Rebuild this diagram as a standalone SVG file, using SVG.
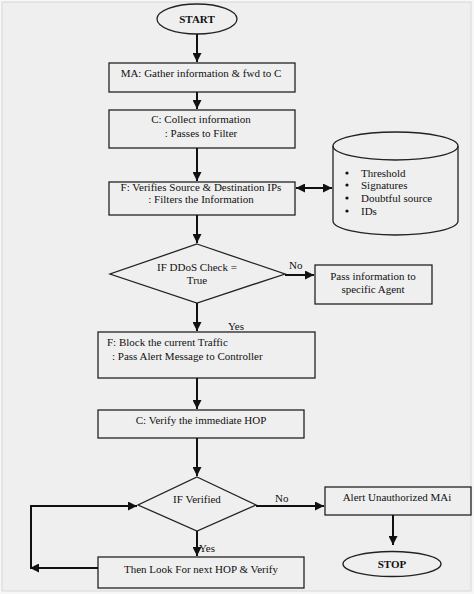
<svg xmlns="http://www.w3.org/2000/svg" width="474" height="594" viewBox="0 0 474 594" font-family="Liberation Serif, Times New Roman, serif">
<style>
.box{fill:none;stroke:#222;stroke-width:1.3}
.t{font-size:11px;fill:#111}
.c{text-anchor:middle}
.b{font-weight:bold}
.ln{fill:none;stroke:#111;stroke-width:2}
</style>
<defs>
<marker id="ah" viewBox="0 0 10 10" refX="10" refY="5" markerWidth="4.5" markerHeight="4.5" orient="auto-start-reverse" markerUnits="strokeWidth">
<path d="M0,0 L10,5 L0,10 z" fill="#111"/>
</marker>
</defs>
<rect x="0" y="0" width="474" height="594" fill="#f7f7f7"/>
<rect x="2" y="2" width="469" height="589" fill="#efefef" stroke="#d8d8d8" stroke-width="1"/>

<g id="start">
<ellipse cx="197" cy="19" rx="40" ry="15" class="box"/>
<text x="197" y="23" class="t c b">START</text>
</g>
<g id="gather">
<rect x="109" y="63" width="186" height="29" class="box"/>
<text x="201" y="77" class="t c">MA: Gather information &amp; fwd to C</text>
</g>
<g id="collect">
<rect x="109" y="110" width="186" height="38" class="box"/>
<text x="201" y="123" class="t c">C: Collect information</text>
<text x="201" y="137" class="t c">: Passes to Filter</text>
</g>
<g id="filter">
<rect x="109" y="182" width="186" height="33" class="box"/>
<text x="201" y="191" class="t c">F: Verifies Source &amp; Destination IPs</text>
<text x="201" y="203" class="t c">: Filters the Information</text>
</g>
<g id="database">
<path d="M333,146 L333,221 A62.5,14 0 0 0 458,221 L458,146" class="box"/>
<ellipse cx="395.5" cy="146" rx="62.5" ry="14" class="box"/>
<g class="t">
<circle cx="347" cy="173" r="1.6" fill="#111"/>
<text x="361" y="177">Threshold</text>
<circle cx="347" cy="185" r="1.6" fill="#111"/>
<text x="361" y="189">Signatures</text>
<circle cx="347" cy="198" r="1.6" fill="#111"/>
<text x="361" y="202">Doubtful source</text>
<circle cx="347" cy="211" r="1.6" fill="#111"/>
<text x="361" y="215">IDs</text>
</g>
</g>
<g id="ddos">
<polygon points="197,244 285,274 197,303 110,274" class="box"/>
<text x="197" y="271" class="t c">IF DDoS Check =</text>
<text x="197" y="284" class="t c">True</text>
</g>
<g id="pass">
<rect x="315" y="265" width="117" height="39" class="box"/>
<text x="373" y="280" class="t c">Pass information to</text>
<text x="373" y="293" class="t c">specific Agent</text>
</g>
<g id="block">
<rect x="98" y="332" width="217" height="46" class="box"/>
<text x="107" y="346" class="t">F: Block the current Traffic</text>
<text x="112" y="360" class="t">:  Pass Alert Message to Controller</text>
</g>
<g id="verifyhop">
<rect x="98" y="410" width="206" height="28" class="box"/>
<text x="201" y="424" class="t c">C: Verify the immediate HOP</text>
</g>
<g id="verified">
<polygon points="197,477 256,505 197,531 138,505" class="box"/>
<text x="197" y="503" class="t c">IF Verified</text>
</g>
<g id="alert">
<rect x="325" y="487" width="146" height="28" class="box"/>
<text x="397" y="501" class="t c">Alert Unauthorized MAi</text>
</g>
<g id="stop">
<ellipse cx="392" cy="564" rx="49" ry="12.5" class="box"/>
<text x="392" y="568" class="t c b">STOP</text>
</g>
<g id="next">
<rect x="98" y="557" width="206" height="31" class="box"/>
<text x="201" y="573" class="t c">Then Look For next HOP &amp; Verify</text>
</g>

<g id="connectors">
<path d="M197,34 L197,62" class="ln" marker-end="url(#ah)"/>
<path d="M197,92 L197,109" class="ln" marker-end="url(#ah)"/>
<path d="M197,148 L197,181" class="ln" marker-end="url(#ah)"/>
<path d="M296,188 L332,188" class="ln" marker-start="url(#ah)" marker-end="url(#ah)"/>
<path d="M197,215 L197,243" class="ln" marker-end="url(#ah)"/>
<path d="M285,275 L314,275" class="ln" marker-end="url(#ah)"/>
<text x="289" y="269" class="t">No</text>
<path d="M197,303 L197,331" class="ln" marker-end="url(#ah)"/>
<text x="228" y="330" class="t">Yes</text>
<path d="M197,378 L197,409" class="ln" marker-end="url(#ah)"/>
<path d="M197,438 L197,476" class="ln" marker-end="url(#ah)"/>
<path d="M256,506 L324,506" class="ln" marker-end="url(#ah)"/>
<text x="275" y="502" class="t">No</text>
<path d="M393,515 L393,545" class="ln" marker-end="url(#ah)"/>
<path d="M197,531 L197,556" class="ln" marker-end="url(#ah)"/>
<text x="199" y="552" class="t">Yes</text>
<path d="M98,568 L30,568" class="ln" marker-end="url(#ah)"/>
<path d="M31,568 L31,506 L137,506" class="ln" marker-end="url(#ah)"/>
</g>
</svg>
